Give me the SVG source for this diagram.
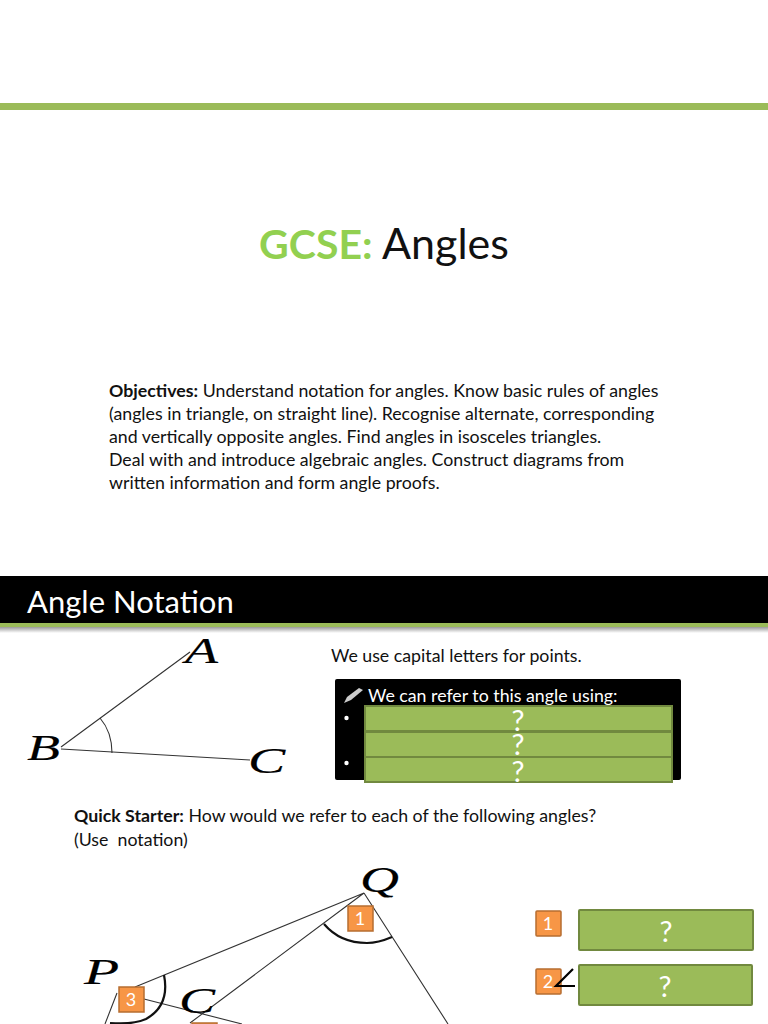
<svg xmlns="http://www.w3.org/2000/svg" width="768" height="1024" viewBox="0 0 768 1024">
<defs>
<linearGradient id="shadow" x1="0" y1="0" x2="0" y2="1"><stop offset="0" stop-color="#9a9a9a"/><stop offset="1" stop-color="#ffffff"/></linearGradient>
</defs>
<style>
text{font-family:"Lato","Carlito","Open Sans",sans-serif;fill:#111}
.body{font-size:17.75px}
.b{font-weight:700}
.q{font-size:29px;fill:#fff;text-anchor:middle}
.m{font-family:"Liberation Serif",serif;font-style:italic;font-size:36px;fill:#000;stroke:#000;stroke-width:.15}
.ans{fill:#9bbb59;stroke:#71893f;stroke-width:2}
.tag{fill:#f79646;stroke:#b66d31;stroke-width:1.5}
.n{font-size:18px;fill:#fff;text-anchor:middle}
.ln{stroke:#333;stroke-width:1.1;fill:none}
.arc{stroke:#111;stroke-width:2.2;fill:none}
</style>
<rect width="768" height="1024" fill="#fff"/>
<rect id="topbar" x="0" y="103" width="768" height="7" fill="#9bbb59"/>
<g id="title"><text x="259" y="259" font-size="41" font-weight="700" style="fill:#92d050">GCSE:</text><text x="382" y="259" font-size="43">Angles</text></g>
<g id="objectives" class="body">
<text x="109" y="397"><tspan class="b">Objectives:</tspan> Understand notation for angles. Know basic rules of angles</text>
<text x="109" y="420">(angles in triangle, on straight line). Recognise alternate, corresponding</text>
<text x="109" y="443">and vertically opposite angles. Find angles in isosceles triangles.</text>
<text x="109" y="466">Deal with and introduce algebraic angles. Construct diagrams from</text>
<text x="109" y="489">written information and form angle proofs.</text>
</g>
<g id="header">
<rect x="0" y="576" width="768" height="47" fill="#000"/>
<rect x="0" y="623" width="768" height="4" fill="#9bbb59"/>
<rect x="0" y="627" width="768" height="6" fill="url(#shadow)"/>
<text x="27" y="613" font-size="31" style="fill:#fff">Angle Notation</text>
</g>
<g id="connectors">
<path class="ln" d="M61 747L190 652M61 749L250 760"/>
<path class="ln" d="M100 718Q112 732 112 753"/>
<path class="ln" d="M364 893L135 987M364 893L190 1023M364 893L448 1024M117 993L105 1024M144 999L242 1024"/>
<path class="arc" d="M324 924C335 937 350 943 367 943C376 943 385 940 392 937M164 975C168 995 162 1010 146 1019C135 1024 122 1024 110 1023"/>
</g>
<g id="labelA"><text class="m" transform="translate(185 663) scale(1.5 1)">A</text></g>
<g id="labelB"><text class="m" transform="translate(27 760) scale(1.5 1)">B</text></g>
<g id="labelC"><text class="m" transform="translate(248 773) scale(1.55 1)">C</text></g>
<text x="331" y="662" class="body">We use capital letters for points.</text>
<g id="box">
<rect x="335" y="679" width="346" height="101" rx="2" fill="#000"/>
<path d="M344 703L347 697L359 688L363 690L351 700Z" fill="#ccc"/>
<text x="368" y="702" font-size="17.750" style="fill:#fff">We can refer to this angle using:</text>
<circle cx="346.500" cy="718" r="2.200" fill="#fff"/><circle cx="346.500" cy="763" r="2.200" fill="#fff"/>
</g>
<g id="ans-a"><rect class="ans" x="365" y="706" width="307" height="25"/><text class="q" x="518" y="731">?</text></g>
<g id="ans-b"><rect class="ans" x="365" y="732" width="307" height="25"/><text class="q" x="518" y="755">?</text></g>
<g id="ans-c"><rect class="ans" x="365" y="757" width="307" height="25"/><text class="q" x="518" y="782">?</text></g>
<g id="starter" class="body">
<text x="74" y="822"><tspan class="b">Quick Starter:</tspan> How would we refer to each of the following angles?</text>
<text x="74" y="846" xml:space="preserve">(Use  notation)</text>
</g>
<g id="labelQ"><text class="m" transform="translate(360 892) scale(1.5 1)">Q</text></g>
<g id="labelP"><text class="m" transform="translate(84 984) scale(1.6 1)">P</text></g>
<g id="labelC2"><text class="m" transform="translate(179 1013) scale(1.5 1)">C</text></g>
<g id="tag1"><rect class="tag" x="348" y="906" width="25" height="25"/><text class="n" x="360" y="925">1</text></g>
<g id="tag3"><rect class="tag" x="119" y="987" width="25" height="25"/><text class="n" x="131" y="1006">3</text></g>
<g id="tag2b"><rect class="tag" x="192" y="1023" width="25" height="25"/></g>
<g id="key1"><rect class="tag" x="536" y="911" width="25" height="25" rx="1"/><text class="n" x="548" y="930">1</text></g>
<g id="key2"><rect class="tag" x="536" y="969" width="25" height="25" rx="1"/><text class="n" x="548" y="988">2</text></g>
<path d="M573 969L556 986H575" fill="none" stroke="#000" stroke-width="2.200"/>
<g id="ans1"><rect class="ans" x="579" y="910" width="174" height="40" rx="1"/><text class="q" x="666" y="942">?</text></g>
<g id="ans2"><rect class="ans" x="579" y="965" width="173" height="40" rx="1"/><text class="q" x="665" y="997">?</text></g>
</svg>
